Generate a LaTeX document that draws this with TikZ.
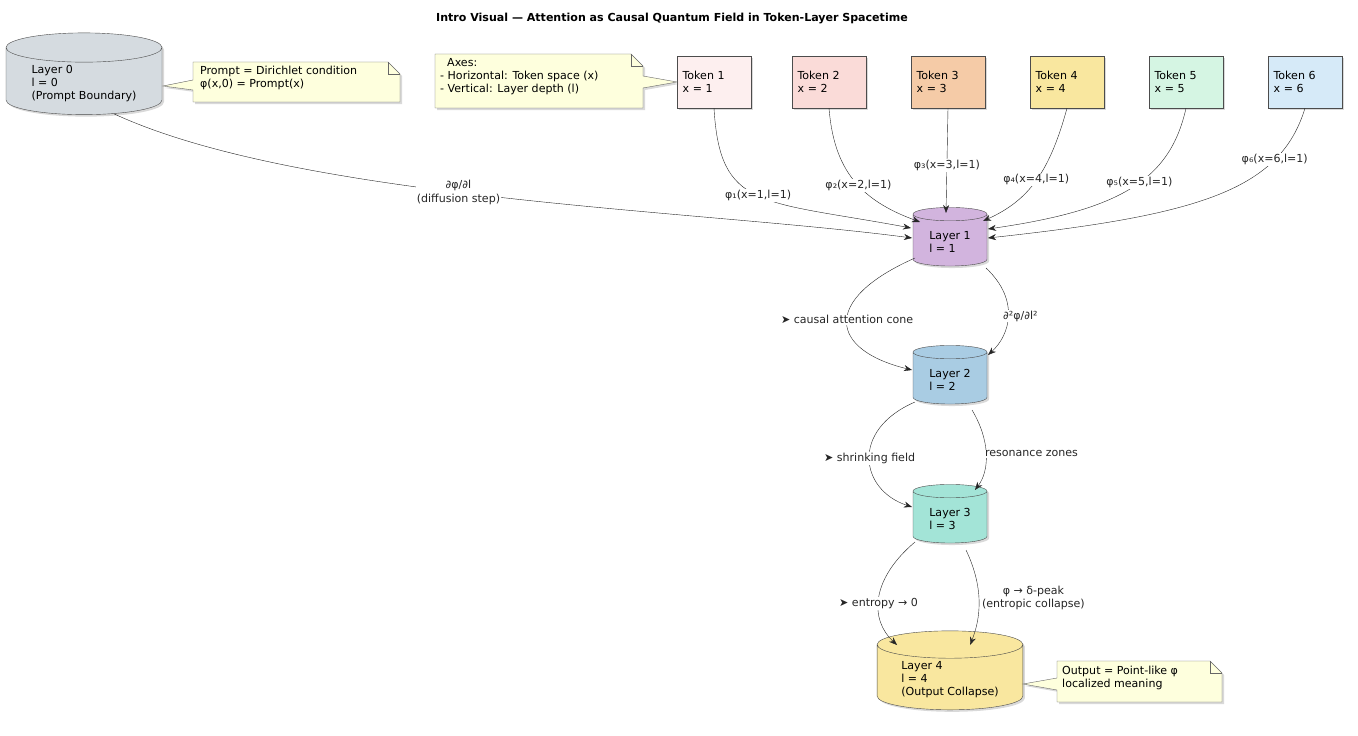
\documentclass[tikz,border=0pt]{standalone}
\usepackage{fontspec}
\setmainfont{DejaVu Sans}
\usetikzlibrary{shapes.geometric,arrows.meta,shadows}
\definecolor{c0}{HTML}{D5DBE0}
\definecolor{c1}{HTML}{D2B4DE}
\definecolor{c2}{HTML}{A9CCE3}
\definecolor{c3}{HTML}{A3E4D7}
\definecolor{c4}{HTML}{F9E79F}
\definecolor{t1}{HTML}{FDEFEF}
\definecolor{t2}{HTML}{FADBD8}
\definecolor{t3}{HTML}{F5CBA7}
\definecolor{t4}{HTML}{F9E79F}
\definecolor{t5}{HTML}{D5F5E3}
\definecolor{t6}{HTML}{D6EAF8}
\definecolor{notec}{HTML}{FEFFDD}
\begin{document}
\begin{tikzpicture}[x=0.035cm,y=-0.035cm,font=\fontsize{11}{13}\selectfont,
  layer/.style={cylinder,shape border rotate=90,aspect=0.25,draw=black!70,
    align=left,minimum width=74\pgfkeysvalueof{/tikz/x},inner xsep=6pt,
    drop shadow={shadow xshift=2pt,shadow yshift=-2pt,opacity=0.3}},
  token/.style={rectangle,draw=black!70,align=left,minimum width=2.59cm,
    minimum height=1.82cm,text width=2.2cm,
    drop shadow={shadow xshift=2pt,shadow yshift=-2pt,opacity=0.3}},
  notetxt/.style={align=left,inner sep=0pt,anchor=north west},
  notebox/.style={fill=notec,draw=black!60,
    drop shadow={shadow xshift=2pt,shadow yshift=-2pt,opacity=0.3}},
  arr/.style={-{Stealth[length=8pt,width=6pt]},black!85},
  lbl/.style={fill=white,inner sep=1pt,align=center}]
\useasboundingbox (0,0) rectangle (1358,736);
\node[font=\fontsize{11}{13}\selectfont\bfseries] (title) at (672,18)
  {Intro Visual — Attention as Causal Quantum Field in Token-Layer Spacetime};

% layers
\node[layer,fill=c0,minimum width=5.46cm,minimum height=2.75cm] (l0) at (84,84)
  {Layer 0\\l = 0\\(Prompt Boundary)};
\node[layer,fill=c1,minimum width=2.59cm,minimum height=2.05cm] (l1) at (950,242) {Layer 1\\l = 1};
\node[layer,fill=c2,minimum width=2.59cm,minimum height=2.05cm] (l2) at (950,380) {Layer 2\\l = 2};
\node[layer,fill=c3,minimum width=2.59cm,minimum height=2.05cm] (l3) at (950,519) {Layer 3\\l = 3};
\node[layer,fill=c4,minimum width=5.1cm,minimum height=2.7cm] (l4) at (950,680)
  {Layer 4\\l = 4\\(Output Collapse)};

% tokens
\foreach \i/\x in {1/714,2/829,3/948,4/1067,5/1186,6/1305}
  \node[token,fill=t\i] (tk\i) at (\x,82) {Token \i\\x = \i};

% notes
\draw[notebox] (193,62) -- (388,62) -- (400,74) -- (400,102) -- (193,102)
  -- (193,90) -- (163,86) -- (193,80) -- cycle;
\draw[black!60] (388,62) -- (388,74) -- (400,74);
\node[notetxt] (n1) at (200,66) {Prompt = Dirichlet condition\\φ(x,0) = Prompt(x)};

\draw[notebox] (435,54) -- (631,54) -- (643,66) -- (643,76) -- (677,82)
  -- (643,88) -- (643,108) -- (435,108) -- cycle;
\draw[black!60] (631,54) -- (631,66) -- (643,66);
\node[notetxt] (n2) at (440,58) {\ \ Axes:\\- Horizontal: Token space (x)\\- Vertical: Layer depth (l)};

\draw[notebox] (1057,661) -- (1210,661) -- (1222,673) -- (1222,702) -- (1057,702)
  -- (1057,690) -- (1023,684) -- (1057,678) -- cycle;
\draw[black!60] (1210,661) -- (1210,673) -- (1222,673);
\node[notetxt] (n3) at (1062,666) {Output = Point-like φ\\localized meaning};

% edges
\coordinate (l1w) at (912,238);
\coordinate (l1e) at (988,238);
\draw[arr] (l0.south east) .. controls (300,200) and (700,210) .. (l1w)
  node[pos=0.45,lbl] {∂φ/∂l\\(diffusion step)};
\draw[arr] (tk1.south) .. controls (720,210) and (760,200) .. (911,228)
  node[pos=0.5,lbl] {φ₁(x=1,l=1)};
\draw[arr] (tk2.south) .. controls (834,170) and (860,200) .. (920,222)
  node[pos=0.55,lbl] {φ₂(x=2,l=1)};
\draw[arr] (tk3.south) -- (946,213) node[pos=0.55,lbl] {φ₃(x=3,l=1)};
\draw[arr] (tk4.south) .. controls (1050,170) and (1030,200) .. (983,221)
  node[pos=0.5,lbl] {φ₄(x=4,l=1)};
\draw[arr] (tk5.south) .. controls (1170,180) and (1120,210) .. (988,229)
  node[pos=0.45,lbl] {φ₅(x=5,l=1)};
\draw[arr] (tk6.south) .. controls (1280,190) and (1200,215) .. (988,238)
  node[pos=0.25,lbl] {φ₆(x=6,l=1)};

\draw[arr] (915,258) .. controls (820,300) and (830,350) .. (912,370)
  node[pos=0.48,lbl] {➤ causal attention cone};
\draw[arr] (986,268) .. controls (1020,300) and (1010,335) .. (988,355)
  node[pos=0.5,lbl,anchor=west,xshift=-6pt] {∂²φ/∂l²};
\draw[arr] (915,402) .. controls (850,430) and (860,490) .. (912,507)
  node[pos=0.5,lbl] {➤ shrinking field};
\draw[arr] (972,410) .. controls (990,440) and (990,470) .. (975,490)
  node[pos=0.5,lbl,anchor=west,xshift=-2pt] {resonance zones};
\draw[arr] (915,542) .. controls (870,580) and (870,620) .. (897,645)
  node[pos=0.55,lbl] {➤ entropy → 0};
\draw[arr] (966,550) .. controls (985,590) and (980,620) .. (970,645)
  node[pos=0.45,lbl,anchor=west,xshift=2pt] {φ → δ-peak\\(entropic collapse)};
\end{tikzpicture}
\end{document}
